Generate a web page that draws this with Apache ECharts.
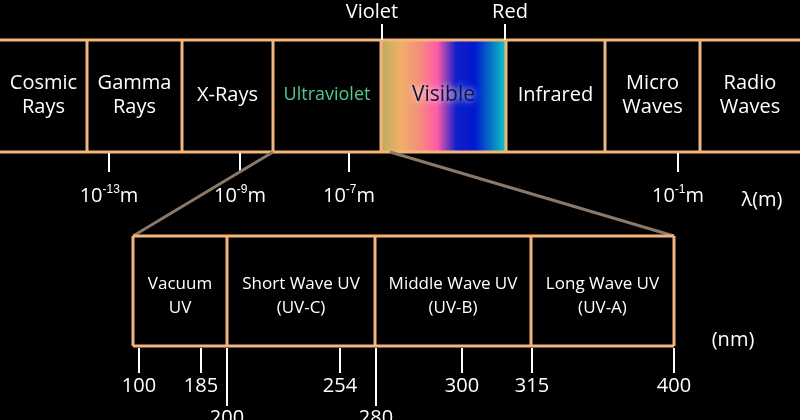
<!DOCTYPE html>
<html>
<head>
<meta charset="UTF-8">
<script src="https://cdn.jsdelivr.net/npm/echarts@6/dist/echarts.min.js"></script>
<style>html,body{margin:0;background:#000}#chart{width:800px;height:420px}</style>
</head>
<body>
<div id="chart"></div>
<script>
// top band: boundaries (diagram units) and names
var bandEdges = [0, 87, 182, 273, 381, 506, 605, 700, 800];
var bandNames = ['Cosmic\nRays', 'Gamma\nRays', 'X-Rays', 'Ultraviolet', 'Visible', 'Infrared', 'Micro\nWaves', 'Radio\nWaves'];
var topTickPos = [109, 240, 349, 678];
var topTickLabels = ['10{s|-13}m', '10{s|-9}m', '10{s|-7}m', '10{s|-1}m'];
// lower UV box
var uvEdges = [133, 227, 375, 531, 674];
var uvNames = ['Vacuum\nUV', 'Short Wave UV\n(UV-C)', 'Middle Wave UV\n(UV-B)', 'Long Wave UV\n(UV-A)'];
var nmTicks = [100, 185, 200, 254, 280, 300, 315, 400];
var nmPos = [139, 201, 227, 340, 376, 462, 532, 674];
var nmLong = [false, false, true, false, true, false, false, false];

var ORANGE = '#f4b57c';
var chart = echarts.init(document.getElementById('chart'));

function line(api, x1, y1, x2, y2, color, w) {
  var a = api.coord([x1, y1]), b = api.coord([x2, y2]);
  return {type: 'line', shape: {x1: a[0], y1: a[1], x2: b[0], y2: b[1]}, style: {stroke: color, lineWidth: w}};
}
function text(api, x, y, t, opt) {
  var p = api.coord([x, y]);
  return {type: 'text', x: p[0], y: p[1], style: Object.assign({text: t, fill: '#fff', font: '20px "Open Sans"', align: 'center', verticalAlign: 'middle', lineHeight: 24}, opt || {})};
}

var visGrad = new echarts.graphic.LinearGradient(0, 0, 1, 0, [
  {offset: 0, color: '#b8ac5c'}, {offset: 0.15, color: '#f0b068'}, {offset: 0.3, color: '#f4907a'},
  {offset: 0.45, color: '#ff5aa8'}, {offset: 0.6, color: '#1020c8'}, {offset: 0.75, color: '#0018d0'},
  {offset: 1, color: '#10c8c0'}
]);

chart.setOption({
  backgroundColor: '#000',
  animation: false,
  grid: {left: 0, right: 0, top: 0, bottom: 0},
  xAxis: {type: 'value', min: 0, max: 800, show: false},
  yAxis: {type: 'value', min: 0, max: 420, inverse: true, show: false},
  series: [{
    type: 'custom',
    data: bandNames.map(function (n, i) { return [i]; }),
    renderItem: function (params, api) {
      var i = api.value(0), x0 = bandEdges[i], x1 = bandEdges[i + 1];
      var kids = [];
      if (i === 4) {
        var a = api.coord([x0, 41]), b = api.coord([x1, 151]);
        kids.push({type: 'rect', shape: {x: a[0], y: a[1], width: b[0] - a[0], height: b[1] - a[1]}, style: {fill: visGrad}});
      }
      kids.push(line(api, x0, 40, x1, 40, ORANGE, 3));
      kids.push(line(api, x0, 152, x1, 152, ORANGE, 3));
      if (i > 0) kids.push(line(api, x0, 40, x0, 152, ORANGE, 3));
      var opt = i === 3 ? {fill: '#4fc890', font: '18px "Open Sans"'} :
        (i === 4 ? {fill: '#14143c', font: '21px "Open Sans"', textShadowColor: '#fff', textShadowBlur: 6} : {});
      kids.push(text(api, (x0 + x1) / 2, 95, bandNames[i], opt));
      return {type: 'group', children: kids};
    }
  }, {
    type: 'custom',
    data: topTickPos.map(function (p, i) { return [p, i]; }),
    renderItem: function (params, api) {
      var x = api.value(0), i = api.value(1);
      return {type: 'group', children: [
        line(api, x, 153, x, 172, '#fff', 2),
        text(api, x, 196, topTickLabels[i], {rich: {s: {fontSize: 12, verticalAlign: 'top', fill: '#fff', padding: [0, 0, 8, 0]}}})
      ]};
    }
  }, {
    type: 'custom',
    data: [[0]],
    renderItem: function (params, api) {
      return {type: 'group', children: [
        line(api, 382, 24, 382, 40, '#fff', 2),
        line(api, 505, 24, 505, 40, '#fff', 2),
        text(api, 372, 12, 'Violet'),
        text(api, 510, 12, 'Red'),
        text(api, 762, 200, 'λ(m)'),
        text(api, 733, 340, '(nm)'),
        line(api, 273, 152, 133, 236, '#8a7868', 3),
        line(api, 390, 152, 674, 236, '#8a7868', 3)
      ]};
    }
  }, {
    type: 'custom',
    data: uvNames.map(function (n, i) { return [i]; }),
    renderItem: function (params, api) {
      var i = api.value(0), x0 = uvEdges[i], x1 = uvEdges[i + 1];
      var kids = [
        line(api, x0, 236, x1, 236, ORANGE, 3),
        line(api, x0, 346, x1, 346, ORANGE, 3),
        line(api, x0, 236, x0, 346, ORANGE, 3)
      ];
      if (i === uvNames.length - 1) kids.push(line(api, x1, 236, x1, 346, ORANGE, 3));
      kids.push(text(api, (x0 + x1) / 2, 296, uvNames[i], {font: '17px "Open Sans"'}));
      return {type: 'group', children: kids};
    }
  }, {
    type: 'custom',
    data: nmTicks.map(function (v, i) { return [nmPos[i], v, nmLong[i] ? 1 : 0]; }),
    renderItem: function (params, api) {
      var x = api.value(0), v = api.value(1), lg = api.value(2);
      return {type: 'group', children: [
        line(api, x, 348, x, lg ? 406 : 373, '#fff', 2),
        text(api, x, lg ? 418 : 386, String(v))
      ]};
    }
  }]
});
</script>
</body>
</html>
